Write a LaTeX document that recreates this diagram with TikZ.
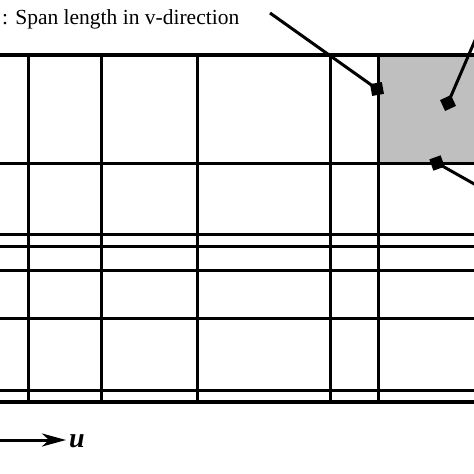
\documentclass[tikz,border=0pt]{standalone}
\usepackage{fontspec}
\setmainfont{Liberation Serif}
\usetikzlibrary{arrows.meta}
\begin{document}
\begin{tikzpicture}[x=1pt,y=-1pt,
  thickline/.style={line width=4.4pt},
  gridline/.style={line width=3pt},
  leader/.style={line width=3pt},
  marker/.style={fill=black,minimum size=12pt,inner sep=0pt,draw=none}]
\useasboundingbox (0,0) rectangle (474,474);
% gray cell
\fill[gray!50] (378,55) rectangle (474,163);
% vertical lines
\foreach \x in {28,101,197,330,378} \draw[gridline] (\x,55) -- (\x,402);
% horizontal lines
\foreach \y in {163,234,246,270,318,390} \draw[gridline] (0,\y) -- (474,\y);
\draw[thickline] (0,55) -- (474,55);
\draw[thickline] (0,402) -- (474,402);
% label
\node[anchor=base west,inner sep=0pt,font=\fontsize{21.5}{23}\selectfont] (lbl) at (2,24) {: Span length in v-direction};
% markers
\node[marker,rotate=10] (m1) at (377,89) {};
\node[marker,rotate=25] (m2) at (448,103) {};
\node[marker,rotate=20] (m3) at (437,163) {};
\coordinate (s1) at (270,13);
\coordinate (s2) at (476,38);
\coordinate (s3) at (476,185);
\draw[leader] (s1) -- (m1.center);
\draw[leader] (s2) -- (m2.center);
\draw[leader] (s3) -- (m3.center);
% u axis
\coordinate (a0) at (-2,440);
\node[anchor=base west,inner sep=0pt,font=\fontsize{28}{30}\selectfont\bfseries\itshape] (u) at (69,447) {u};
\draw[line width=3pt,-{Stealth[length=24pt,width=13pt,inset=7pt]}] (a0) -- (66,440);
\end{tikzpicture}
\end{document}
